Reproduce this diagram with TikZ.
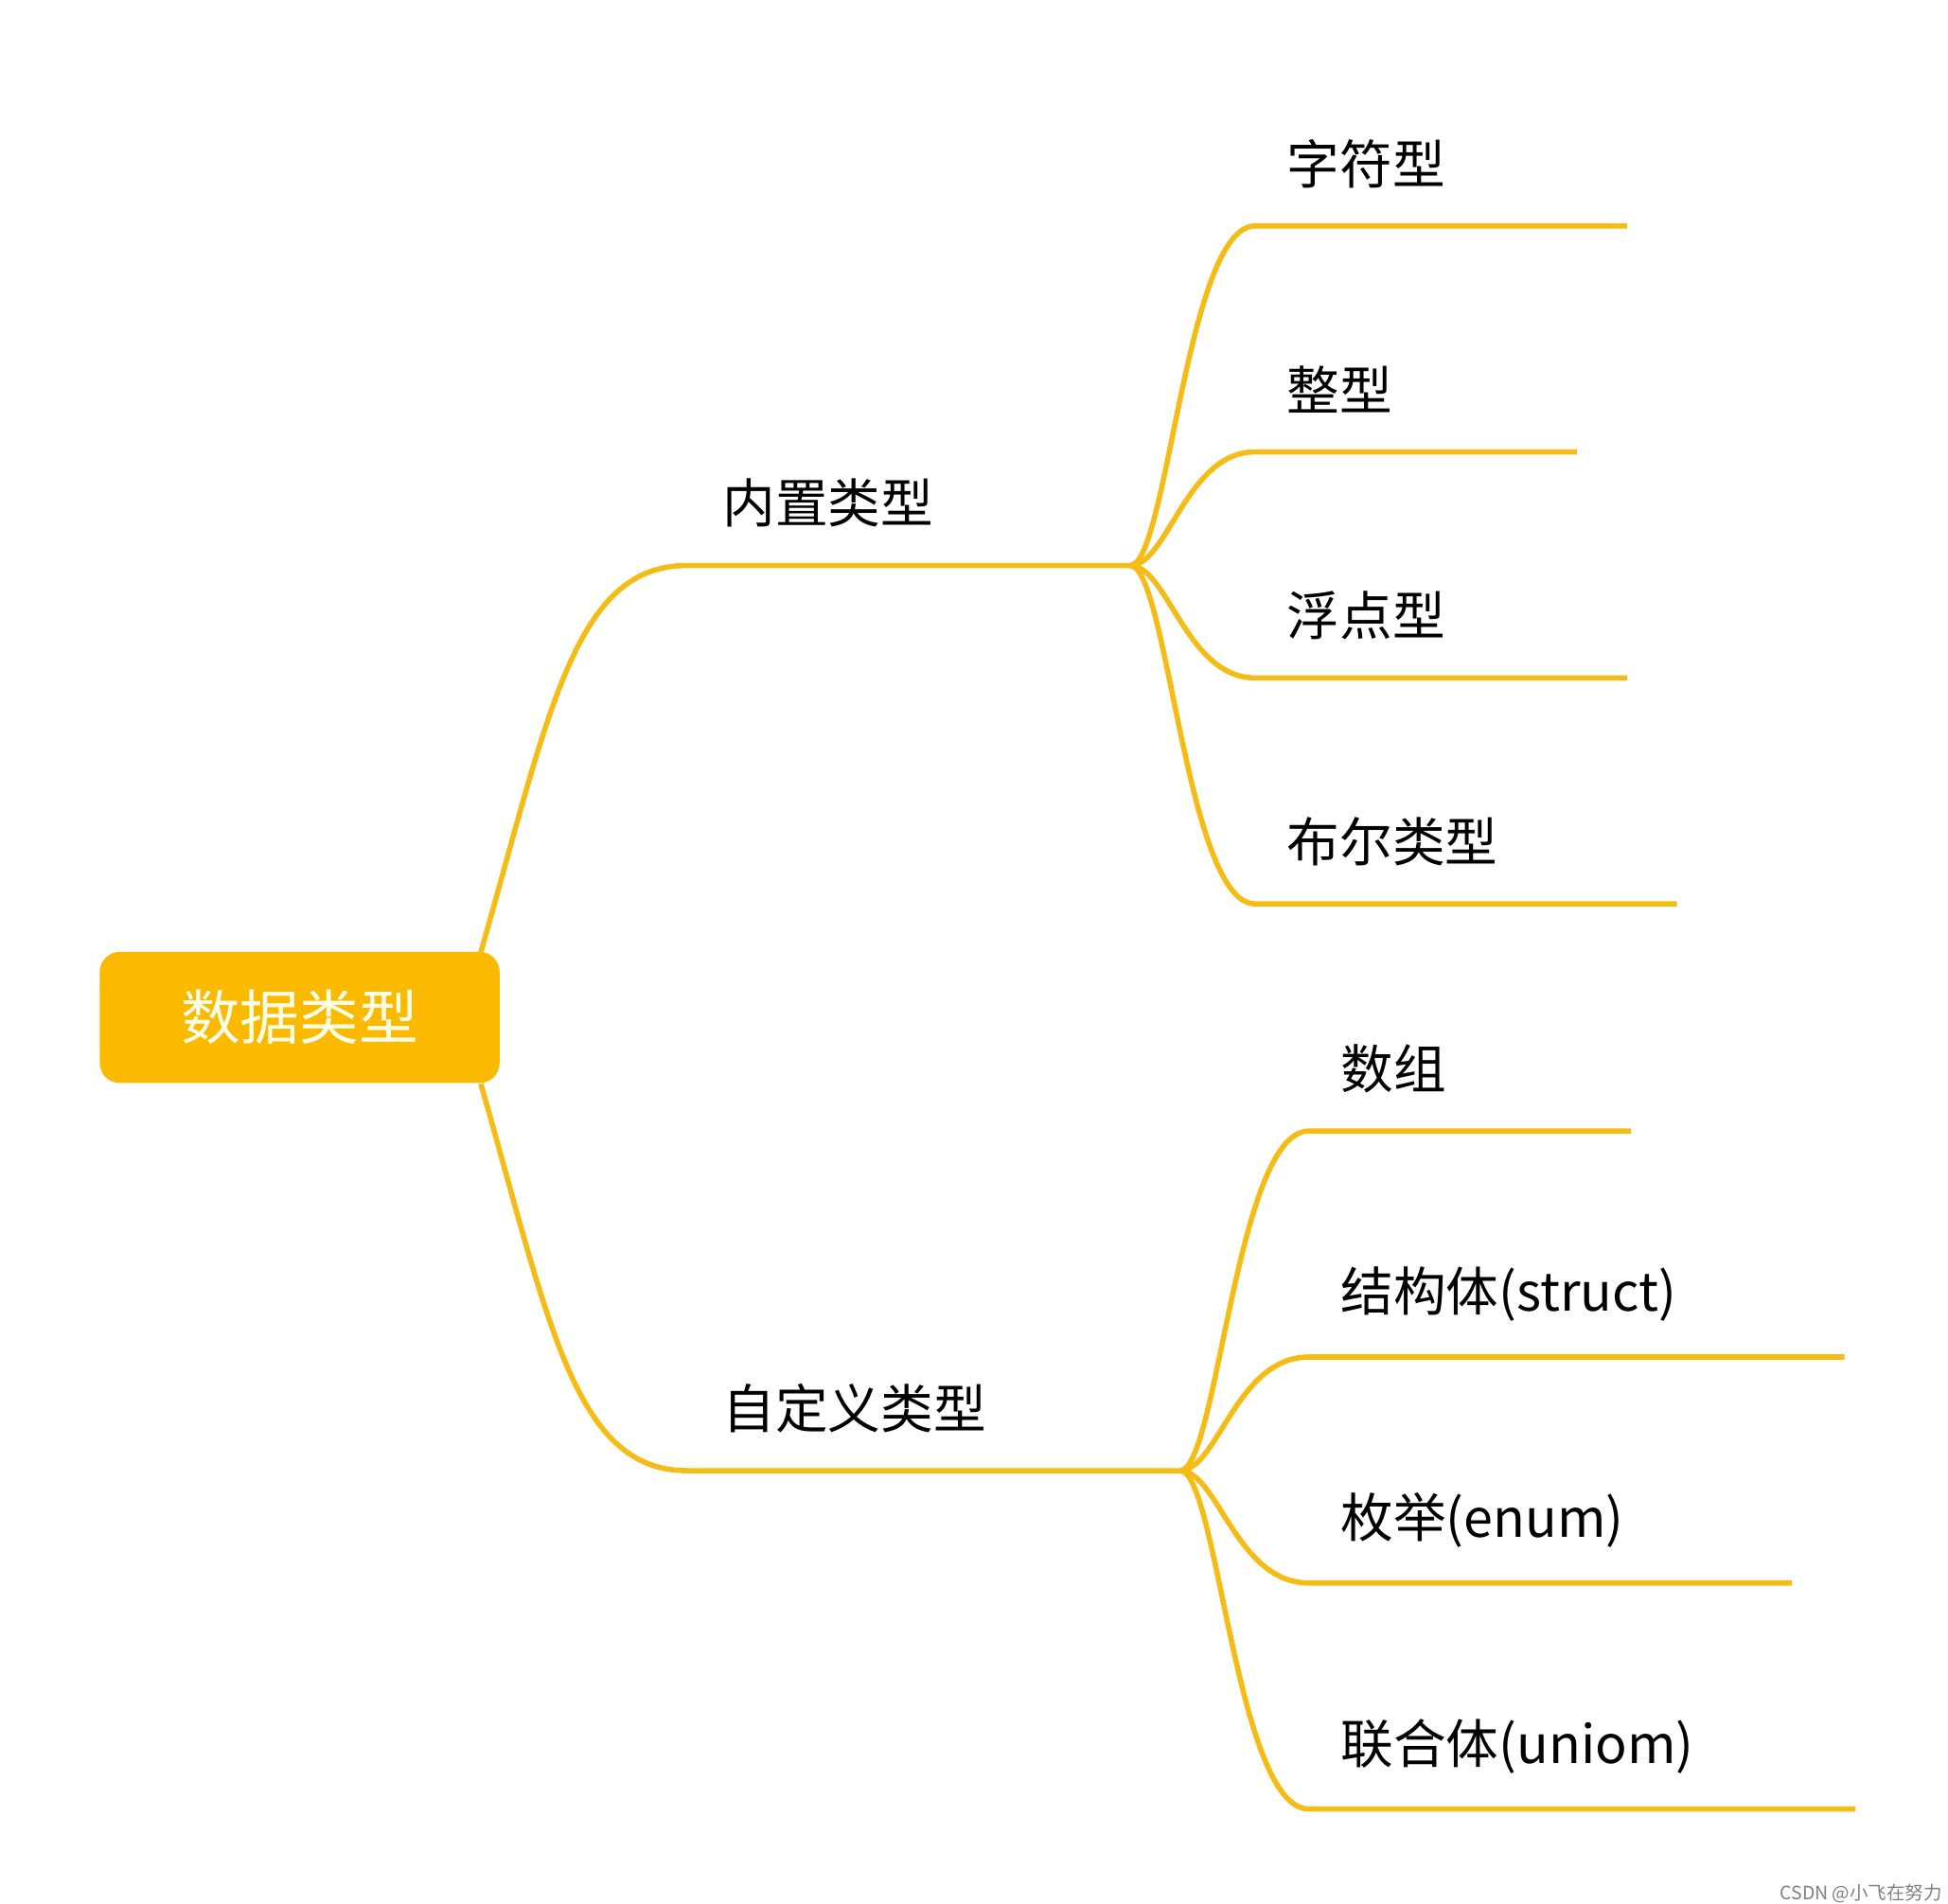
\documentclass[tikz,border=0pt]{standalone}
\usepackage{fontspec}
\setmainfont{Noto Sans CJK SC}
\begin{document}
\begin{tikzpicture}[x=0.01cm,y=-0.01cm,
  br/.style={draw=ybr,line width=1.2pt},
  lbl/.style={anchor=west,inner sep=0pt,font=\fontsize{12}{14}\selectfont},
  sc/.style={out=0,in=180,looseness=0.9}]
\definecolor{ybr}{HTML}{F6BC16}
\definecolor{yroot}{HTML}{FBBA00}
\useasboundingbox (0,0) rectangle (1560,1525);
\node[fill=yroot,rounded corners=0.16cm,minimum width=3.2cm,minimum height=1.05cm,text=white!90!yellow,font=\fontsize{13.5}{16}\selectfont] (root) at (240,815) {数据类型};
\coordinate (rt) at (385,763); \coordinate (rb) at (385,868);
% level 1
\coordinate (a0) at (550,453); \coordinate (a1) at (905,453);
\coordinate (b0) at (550,1178); \coordinate (b1) at (945,1178);
\node[lbl] (la) at (578,403) {内置类型};
\node[lbl] (lb) at (578,1128) {自定义类型};
\draw[br] (rt) .. controls (440,570) and (460,453) .. (a0) -- (a1);
\draw[br] (rb) .. controls (440,1060) and (460,1178) .. (b0) -- (b1);
% level 2 upper
\foreach \n/\y/\e/\t in {c1/181/1303/字符型,c2/362/1263/整型,c3/543/1303/浮点型,c4/724/1343/布尔类型}{
  \coordinate (\n s) at (1005,\y); \coordinate (\n e) at (\e,\y);
  \node[lbl] (\n) at (1030,\y-50) {\t};
  \draw[br] (a1) .. controls (935,453) and (950,\y) .. (\n s) -- (\n e);
}
\foreach \n/\y/\e/\t in {d1/906/1306/数组,d2/1087/1477/结构体(struct),d3/1268/1435/枚举(enum),d4/1449/1486/联合体(uniom)}{
  \coordinate (\n s) at (1048,\y); \coordinate (\n e) at (\e,\y);
  \node[lbl] (\n) at (1073,\y-50) {\t};
  \draw[br] (b1) .. controls (975,1178) and (990,\y) .. (\n s) -- (\n e);
}
\node[anchor=east,inner sep=0pt,text=gray,font=\fontsize{4.2}{5}\selectfont] (wm) at (1556,1517) {CSDN @小飞在努力};
\end{tikzpicture}
\end{document}
